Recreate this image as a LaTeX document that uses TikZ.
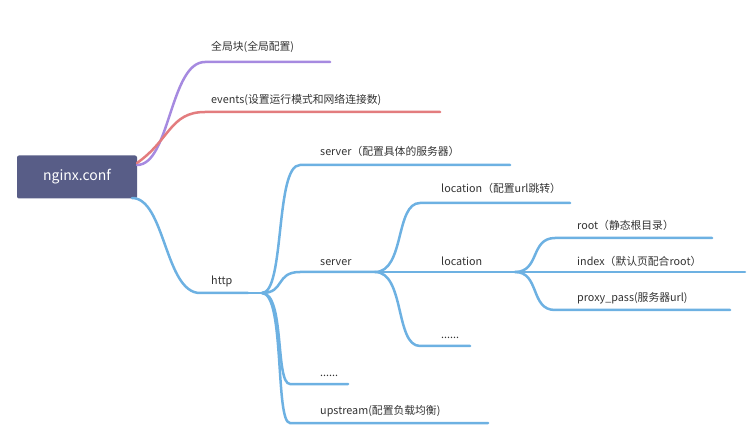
\documentclass[tikz,border=0pt]{standalone}
\usepackage{fontspec}
\setmainfont{Noto Sans CJK SC}
\begin{document}
\begin{tikzpicture}[x=1pt,y=-1pt,
  br/.style={line width=2.5pt,line cap=round},
  lbl/.style={anchor=base west,inner sep=0pt,text=black!80,font=\fontsize{10.8}{12}\selectfont},
]
\useasboundingbox (0,0) rectangle (752,443);
\definecolor{pur}{HTML}{A68AE0}\definecolor{red}{HTML}{E37C7E}\definecolor{blu}{HTML}{6DB1E2}\definecolor{rootc}{HTML}{585D87}
% root
\node[fill=rootc,rounded corners=2pt,minimum width=120pt,minimum height=43pt,text=white,font=\fontsize{14}{16}\selectfont] (root) at (77,177) {nginx.conf};
% level 1 labels
\node[lbl] (g) at (211,51) {全局块(全局配置)};
\node[lbl] (e) at (211,104) {events(设置运行模式和网络连接数)};
\node[lbl] (h) at (211,285) {http};
\coordinate (gs) at (205,62); \coordinate (ge) at (330,62);
\coordinate (es) at (205,112); \coordinate (ee) at (440,112);
\coordinate (hs) at (200,293); \coordinate (he) at (248,293);
\draw[br,pur] (137,165) .. controls (170,165) and (170,62) .. (gs) -- (ge);
\draw[br,red] (137,163) .. controls (170,140) and (170,112) .. (es) -- (ee);
\draw[br,blu] (132,198) .. controls (165,198) and (165,293) .. (hs) -- (he);
% http children
\node[lbl] (s1) at (320,156) {server（配置具体的服务器）};
\node[lbl] (s2) at (320,266) {server};
\node[lbl] (d1) at (320,377) {......};
\node[lbl] (u) at (320,414) {upstream(配置负载均衡)};
\coordinate (hx) at (262,293);
\draw[br,blu] (he) -- (hx);
\draw[br,blu] (hx) .. controls (285,293) and (275,165) .. (300,165) -- (510,165);
\draw[br,blu] (hx) .. controls (285,293) and (275,272) .. (300,272) -- (375,272);
\draw[br,blu] (hx) .. controls (285,293) and (275,384) .. (290,384) -- (348,384);
\draw[br,blu] (hx) .. controls (285,293) and (275,423) .. (290,423) -- (488,423);
% server children
\node[lbl] (l1) at (441,193) {location（配置url跳转）};
\node[lbl] (l2) at (441,266) {location};
\node[lbl] (d2) at (441,338) {......};
\coordinate (sx) at (375,272);
\draw[br,blu] (sx) .. controls (405,272) and (395,203) .. (420,203) -- (570,203);
\draw[br,blu] (sx) -- (515,272);
\draw[br,blu] (sx) .. controls (405,272) and (395,346) .. (420,346) -- (470,346);
% location children
\node[lbl] (r) at (577,230) {root（静态根目录）};
\node[lbl] (i) at (577,266) {index（默认页配合root）};
\node[lbl] (p) at (577,302) {proxy\_pass(服务器url)};
\coordinate (lx) at (515,272);
\draw[br,blu] (lx) .. controls (540,272) and (530,238) .. (555,238) -- (712,238);
\draw[br,blu] (lx) -- (745,272);
\draw[br,blu] (lx) .. controls (540,272) and (530,310) .. (555,310) -- (730,310);
\end{tikzpicture}
\end{document}
